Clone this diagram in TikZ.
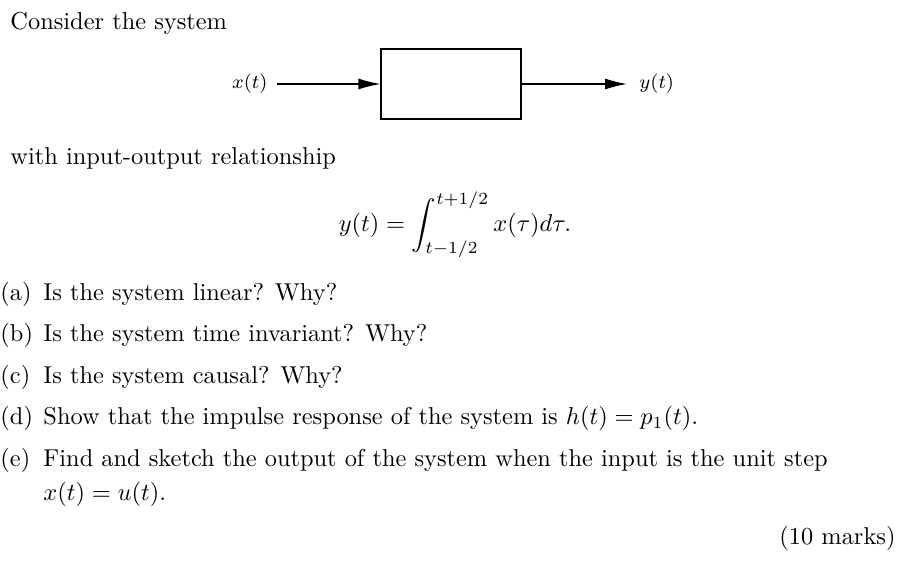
\documentclass[tikz,border=0pt]{standalone}
\usetikzlibrary{arrows.meta}
\begin{document}
\begin{tikzpicture}[x=0.41pt,y=-0.41pt,
  txt/.style={anchor=base west,inner sep=0pt},
  lbl/.style={anchor=base,inner sep=0pt,font=\footnotesize},
  arr/.style={-{Latex[length=9pt,width=4.5pt]},line width=0.5pt}]
\useasboundingbox (0,0) rectangle (903,561);
\node[txt] (t1) at (10,30) {Consider the system};
\node[draw,line width=0.5pt,minimum width=57.4pt,minimum height=28.7pt,inner sep=0pt] (box) at (451,84) {};
\node[lbl,anchor=east] (x) at (268,84) {$x(t)$};
\node[lbl,anchor=west] (y) at (639,84) {$y(t)$};
\coordinate (xe) at (277,84);
\coordinate (ye) at (627,84);
\draw[arr] (xe) -- (box.west);
\draw[arr] (box.east) -- (ye);
\node[txt] (t2) at (10,165) {with input-output relationship};
\node[anchor=center,inner sep=0pt] (eq) at (455,225) {$\displaystyle y(t)=\int_{t-1/2}^{t+1/2} x(\tau)d\tau.$};
\node[txt] (la) at (0,301) {(a)};
\node[txt] (a) at (43,301) {Is the system linear? Why?};
\node[txt] (lb) at (0,342) {(b)};
\node[txt] (b) at (43,342) {Is the system time invariant? Why?};
\node[txt] (lc) at (0,384) {(c)};
\node[txt] (c) at (43,384) {Is the system causal? Why?};
\node[txt] (ld) at (0,425) {(d)};
\node[txt] (d) at (43,425) {Show that the impulse response of the system is $h(t)=p_1(t)$.};
\node[txt] (le) at (0,467) {(e)};
\node[txt] (e) at (43,467) {Find and sketch the output of the system when the input is the unit step};
\node[txt] (e2) at (43,501) {$x(t)=u(t)$.};
\node[txt,anchor=base east] (m) at (896,544) {(10 marks)};
\end{tikzpicture}
\end{document}
